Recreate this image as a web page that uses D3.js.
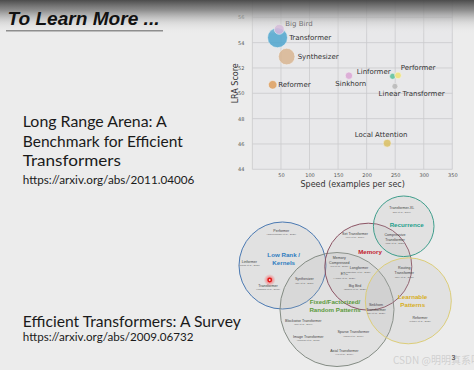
<!DOCTYPE html>
<html><head><meta charset="utf-8">
<script src="https://cdn.jsdelivr.net/npm/d3@7"></script>
<style>html,body{margin:0;padding:0;background:#ececec;overflow:hidden}</style>
</head><body>
<svg id="c" width="474" height="370"></svg>
<script>
// ---- Scatter data (Long Range Arena) ----
const models = ["Transformer","Big Bird","Synthesizer","Reformer","Sinkhorn","Linformer","Performer","Linear Transformer","Local Attention"];
const speed = [44, 47, 60, 35.5, 169, 245.5, 255, 249.5, 236];
const lraScore = [54.39, 55.05, 52.9, 50.67, 51.39, 51.34, 51.41, 50.55, 46.06];
const memory = [10, 2.5, 6.9, 1.85, 1.37, 0.9, 1.1, 0.9, 1.6];
const xTicks = [50,100,150,200,250,300,350];
const yTicks = [44,46,48,50,52,54,56];

// ---- Venn data (Efficient Transformers survey) ----
const groups = ["Low Rank / Kernels","Fixed/Factorized/ Random Patterns","Memory","Recurrence","Learnable Patterns"];
const vennModels = ["Performer","Linformer","Transformer","Synthesizer","Set Transformer","Memory Compressed","Longformer","ETC","Big Bird","Routing Transformer","Sinkhorn Transformer","Blockwise Transformer","Image Transformer","Sparse Transformer","Axial Transformer","Compressive Transformer","Transformer-XL","Reformer"];
const vennCites = ["(Choromanski et al., 2020)","(Wang et al., 2020)","(Vaswani et al., 2017)","(Tay et al., 2020)","(Lee et al., 2019)","(Liu et al., 2018)","(Beltagy et al., 2020)","(Ainslie et al., 2020)","(Zaheer et al., 2020)","(Roy et al., 2020)","(Tay et al., 2020)","(Qiu et al., 2019)","(Parmar et al., 2018)","(Child et al., 2019)","(Ho et al., 2019)","(Rae et al., 2020)","(Dai et al., 2019)","(Kitaev et al., 2020)"];

// ---- styles / layout ----
const colors = ["#4fa6cf","#d6b2dc","#d8b592","#de9f5e","#d9a5d4","#5bbf9b","#eee274","#b9b9b9","#dbbf62"];
const labelPos = [[11.6,2.3,"start"],[6,-3.8,"start"],[11,2.5,"start"],[5.6,2.1,"start"],[1.8,10.8,"middle"],[-2,-2.5,"end"],[2.7,-5.9,"start"],[-16.3,9.5,"start"],[-6.1,-6.5,"middle"]];

const svg = d3.select("#c");
const defs = svg.append("defs");

// slide background
svg.append("rect").attr("width",474).attr("height",370).attr("fill","#ececec");

// ---- scatter ----
const x = d3.scaleLinear().domain([0,350]).range([252.4,452.3]);
const y = d3.scaleLinear().domain([44,56]).range([169.3,17.3]);
const r = d3.scaleSqrt().domain([0,10]).range([0,10]);
const sc = svg.append("g");
sc.append("rect").attr("x",x(0)).attr("y",0).attr("width",x(350)-x(0)).attr("height",y(44)).attr("fill","#e8e8ea");
sc.append("g").selectAll("line").data(xTicks).join("line")
  .attr("x1",d=>x(d)).attr("x2",d=>x(d)).attr("y1",0).attr("y2",y(44))
  .attr("stroke","#cacacd").attr("stroke-width",0.8);
sc.append("g").selectAll("line").data(yTicks).join("line")
  .attr("x1",x(0)).attr("x2",x(350)).attr("y1",d=>y(d)).attr("y2",d=>y(d))
  .attr("stroke","#cacacd").attr("stroke-width",0.8);
sc.append("line").attr("x1",x(0)).attr("x2",x(0)).attr("y1",0).attr("y2",y(44)).attr("stroke","#cacacd").attr("stroke-width",0.8);

const xa = sc.append("g").attr("transform",`translate(0,${y(44)})`)
  .call(d3.axisBottom(x).tickValues(xTicks).tickSize(0).tickPadding(4));
const ya = sc.append("g").attr("transform",`translate(${x(0)},0)`)
  .call(d3.axisLeft(y).tickValues(yTicks).tickSize(0).tickPadding(8));
[xa,ya].forEach(a=>{a.select(".domain").remove();
  a.selectAll("text").attr("font-family","DejaVu Sans").attr("font-size",5).attr("fill","#555");});

sc.append("text").attr("x",352.7).attr("y",186.7).attr("text-anchor","middle")
  .attr("font-family","DejaVu Sans").attr("font-size",8).attr("fill","#333").text("Speed (examples per sec)");
sc.append("text").attr("transform","translate(238,83.3) rotate(-90)").attr("text-anchor","middle")
  .attr("font-family","DejaVu Sans").attr("font-size",8).attr("fill","#333").text("LRA Score");

const idx = d3.range(models.length);
sc.append("g").selectAll("circle").data(idx).join("circle")
  .attr("cx",i=>x(speed[i])).attr("cy",i=>y(lraScore[i])).attr("r",i=>r(memory[i]))
  .attr("fill",i=>colors[i]).attr("fill-opacity",0.85).attr("stroke","#f4f4f4").attr("stroke-width",0.6);
sc.append("g").selectAll("text").data(idx).join("text")
  .attr("x",i=>x(speed[i])+labelPos[i][0]).attr("y",i=>y(lraScore[i])+labelPos[i][1])
  .attr("text-anchor",i=>labelPos[i][2])
  .attr("font-family","DejaVu Sans").attr("font-size",7).attr("fill","#333").text(i=>models[i]);

// ---- header gradient ----
const hg = defs.append("linearGradient").attr("id","hg").attr("x1",0).attr("y1",0).attr("x2",0).attr("y2",1);
hg.append("stop").attr("offset","0%").attr("stop-color","#474747").attr("stop-opacity",0.97);
hg.append("stop").attr("offset","30%").attr("stop-color","#767676").attr("stop-opacity",0.8);
hg.append("stop").attr("offset","65%").attr("stop-color","#c4c4c4").attr("stop-opacity",0.5);
hg.append("stop").attr("offset","100%").attr("stop-color","#ececec").attr("stop-opacity",0);
svg.append("rect").attr("x",0).attr("y",0).attr("width",474).attr("height",34).attr("fill","url(#hg)");

svg.append("text").attr("x",7.5).attr("y",25).attr("font-family","Liberation Sans").attr("font-weight","bold")
  .attr("font-style","italic").attr("font-size",18.5).attr("fill","#111")
  .attr("textLength",152).attr("lengthAdjust","spacingAndGlyphs").text("To Learn More ...");
svg.append("line").attr("x1",6).attr("x2",163).attr("y1",30.7).attr("y2",30.7).attr("stroke","#8e8e8e").attr("stroke-width",1.5);

// ---- left texts ----
const leftText = [
  ["Long Range Arena: A",127.3,16,144],
  ["Benchmark for Efficient",146.7,16,160],
  ["Transformers",165.7,16,98],
  ["https://arxiv.org/abs/2011.04006",184.3,11.5,171.5],
  ["Efficient Transformers: A Survey",327.3,16,218],
  ["https://arxiv.org/abs/2009.06732",340.7,11.5,170.7]];
svg.append("g").selectAll("text").data(leftText).join("text")
  .attr("x",22.8).attr("y",d=>d[1]).attr("font-family","Lato").attr("font-size",d=>d[2])
  .attr("fill","#1a1a1a").attr("textLength",d=>d[3]).attr("lengthAdjust","spacingAndGlyphs").text(d=>d[0]);

// ---- Venn ----
const vc = [ // cx, cy, r, stroke
  [282.5,265.5,43.5,"#4a79b2"],
  [337,309.5,57,"#848c84"],
  [368.3,266.7,43.5,"#8c5464"],
  [403.7,226.3,30.3,"#3f9e8c"],
  [408.3,300.8,43,"#dccd78"]];
const vg = svg.append("g");
vg.selectAll("circle").data(vc).join("circle")
  .attr("cx",d=>d[0]).attr("cy",d=>d[1]).attr("r",d=>d[2])
  .attr("fill","#b0b0b0").attr("fill-opacity",0.18).attr("stroke",d=>d[3]).attr("stroke-width",1);

const groupLab = [ // lines, x, y, color
  [["Low Rank /","Kernels"],283.7,255.3,"#2f7cc0"],
  [["Fixed/Factorized/","Random Patterns"],335,302.3,"#5c9a3c"],
  [["Memory"],370,251.7,"#c2202e"],
  [["Recurrence"],406.7,225.2,"#1f9f8c"],
  [["Learnable","Patterns"],412.7,297.3,"#d7ae1e"]];
groupLab.forEach((g,gi)=>{
  g[0].forEach((t,li)=>vg.append("text").attr("x",g[1]).attr("y",g[2]+li*7.8+2)
    .attr("text-anchor","middle").attr("font-family","Liberation Sans").attr("font-weight","bold")
    .attr("font-size",6.2).attr("fill",g[3]).text(t));
});

const vpos = [[281.3,231],[249.3,261.7],[268,286],[304.3,279.3],[355,234],[339.3,257.7],[359,268.3],[344.3,274.3],[355,285.7],[404.3,268.3],[376,305],[303.3,321],[308.3,336.7],[353.3,332.3],[344.3,351],[395,235],[401.7,208.3],[420,317.7]];
const splitName = {"Memory Compressed":["Memory","Compressed"],"Routing Transformer":["Routing","Transformer"],"Sinkhorn Transformer":["Sinkhorn","Transformer"],"Compressive Transformer":["Compressive","Transformer"]};
vennModels.forEach((m,i)=>{
  const lines = splitName[m] || [m];
  lines.forEach((t,li)=>vg.append("text").attr("x",vpos[i][0]).attr("y",vpos[i][1]+1+li*4.8)
    .attr("text-anchor","middle").attr("font-family","Liberation Sans").attr("font-size",3.6).attr("fill","#444").text(t));
  vg.append("text").attr("x",vpos[i][0]).attr("y",vpos[i][1]+1+lines.length*4.8-1.4)
    .attr("text-anchor","middle").attr("font-family","Liberation Sans").attr("font-size",2.5).attr("fill","#666").text(vennCites[i]);
});

// red pointer highlight
const rg = defs.append("radialGradient").attr("id","rg");
rg.append("stop").attr("offset","0%").attr("stop-color","#ff3030").attr("stop-opacity",0.9);
rg.append("stop").attr("offset","100%").attr("stop-color","#ff6060").attr("stop-opacity",0);
vg.append("circle").attr("cx",269.7).attr("cy",280).attr("r",6).attr("fill","url(#rg)");
vg.append("circle").attr("cx",269.7).attr("cy",280).attr("r",2.4).attr("fill","#e01818");
vg.append("circle").attr("cx",269.7).attr("cy",280).attr("r",0.9).attr("fill","#ffd0d0");

// page number + watermark
svg.append("text").attr("x",393).attr("y",364).attr("font-family","Noto Sans CJK SC").attr("font-size",10)
  .attr("fill","#cdcdcd").attr("fill-opacity",0.9).text("CSDN @明明真系叻");
svg.append("text").attr("x",453.5).attr("y",360).attr("text-anchor","middle").attr("font-family","Liberation Sans")
  .attr("font-size",7).attr("fill","#333").text("3");
</script>
</body></html>
